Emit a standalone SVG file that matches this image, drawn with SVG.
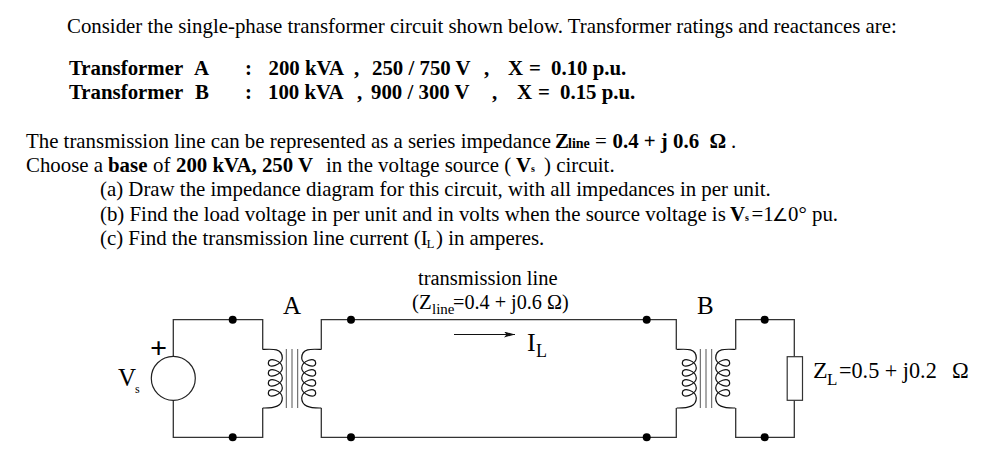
<svg xmlns="http://www.w3.org/2000/svg" xmlns:xlink="http://www.w3.org/1999/xlink" width="1007" height="476" viewBox="0 0 1007 476">
<style>
text{font-family:"Liberation Serif","Times New Roman",serif;font-size:20.850px;fill:#000;white-space:pre}
.b{font-weight:bold}
.w{fill:none;stroke:#333;stroke-width:1.3}
.c{fill:none;stroke:#111;stroke-width:1.2}
.k{fill:none;stroke:#555;stroke-width:1}
.d{fill:#000}
</style>
<defs>
<path id="coil" class="c" d="M262.700 349.500C272 349 282.300 348 282.300 358c0 6-14 12-14 5c0-7 14-2 14 5c0 6-14 12-14 5c0-7 14-2 14 5c0 6-14 12-14 5c0-7 14-2 14 5c0 6-14 12-14 5c0-7 14-2 14 5C282.300 406 275 408.300 262.700 408"/>
<g id="xf">
<use xlink:href="#coil"/>
<use xlink:href="#coil" transform="matrix(-1 0 0 1 584 0)"/>
<path class="k" d="M286.300 349V408M292 349V408M297.700 349V408"/>
</g>
<marker id="ah" markerWidth="12" markerHeight="8" refX="11" refY="3" orient="auto" markerUnits="userSpaceOnUse"><path d="M0 0L11 3L0 6L2.500 3Z" fill="#111"/></marker>
</defs>
<g id="problem-text">
<text x="67" y="33">Consider the single-phase transformer circuit shown below. Transformer ratings and reactances are:</text>
<g class="b">
<text x="69" y="75">Transformer</text><text x="194" y="75">A</text><text x="245" y="75">:</text><text x="268.500" y="75">200 kVA</text><text x="354" y="75">,</text><text x="372" y="75">250 / 750 V</text><text x="484" y="75">,</text><text x="508" y="75">X</text><text x="529" y="75">=</text><text x="551" y="75">0.10 p.u.</text>
<text x="69" y="99">Transformer</text><text x="195" y="99">B</text><text x="245" y="99">:</text><text x="268" y="99">100 kVA</text><text x="357" y="99">,</text><text x="371" y="99">900 / 300 V</text><text x="492" y="99">,</text><text x="517" y="99">X</text><text x="538" y="99">=</text><text x="560" y="99">0.15 p.u.</text>
</g>
<text x="26" y="147.500">The transmission line can be represented as a series impedance</text>
<text x="555" y="147.500" class="b">Z</text><text x="568" y="147.500" class="b" style="font-size:14px">line</text><text x="595" y="147.500">=</text><text x="612.500" y="147.500" class="b">0.4 + j 0.6  Ω</text><text x="731" y="147.500">.</text>
<text x="26" y="171.700">Choose a</text><text x="108" y="171.700" class="b">base</text><text x="153" y="171.700">of</text><text x="176" y="171.700" class="b">200 kVA, 250 V</text><text x="326" y="171.700">in the voltage source (</text>
<text x="516" y="171.700" class="b">V</text><text x="531" y="171.700" class="b" style="font-size:10px">s</text><text x="544" y="171.700">) circuit.</text>
<text x="100" y="196">(a) Draw the impedance diagram for this circuit, with all impedances in per unit.</text>
<text x="100" y="221">(b) Find the load voltage in per unit and in volts when the source voltage is</text><text x="730" y="221" class="b">V</text><text x="745" y="221" class="b" style="font-size:10px">s</text><text x="751.500" y="221">=1</text><text x="772" y="221" style="font-size:18px">∠</text><text x="788" y="221">0° pu.</text>
<text x="100" y="245">(c) Find the transmission line current (I</text><text x="426.500" y="248" style="font-size:13px">L</text><text x="436" y="245">) in amperes.</text>
</g>
<g id="connectors">
<path class="w" d="M173.300 356.500V319.700H262.700V349.500"/>
<path class="w" d="M173.300 400.500V437.300H262.700V408"/>
<path class="w" d="M321.300 349.500V319.700H676.300V349.500"/>
<path class="w" d="M321.300 408V437.300H676.300V408"/>
<path class="w" d="M735.700 349.500V319.700H794.300V356.700"/>
<path class="w" d="M735.700 408V437.300H794.300V400.300"/>
<path class="c" d="M454 334.500H515" marker-end="url(#ah)"/>
<circle class="d" cx="232.700" cy="319.700" r="4"/><circle class="d" cx="232.700" cy="437.300" r="4"/>
<circle class="d" cx="351" cy="319.700" r="4"/><circle class="d" cx="351" cy="437.300" r="4"/>
<circle class="d" cx="646.700" cy="319.700" r="4"/><circle class="d" cx="646.700" cy="437.300" r="4"/>
<circle class="d" cx="764.700" cy="319.700" r="4"/><circle class="d" cx="764.700" cy="437.300" r="4"/>
</g>
<g id="source">
<circle cx="173.300" cy="378.300" r="22" fill="#fff" stroke="#222" stroke-width="1.200"/>
<text x="150" y="358" class="b" style="font-size:30px">+</text>
<text x="118" y="386" style="font-size:25px">V</text><text x="135" y="393" style="font-size:12px">s</text>
</g>
<g id="transformer-a">
<use xlink:href="#xf"/>
<text x="283" y="314" style="font-size:25px">A</text>
</g>
<g id="transformer-b">
<use xlink:href="#xf" transform="translate(414 0)"/>
<text x="697" y="314" style="font-size:25px">B</text>
</g>
<g id="line-label">
<text x="418" y="285" style="font-size:20.500px">transmission line</text>
<text x="412" y="309">(Z</text><text x="432" y="314" style="font-size:15px">line</text><text x="453" y="309" style="font-size:20.200px">=0.4 + j0.6 Ω)</text>
<text x="527" y="351" style="font-size:26px">I</text><text x="536" y="356.700" style="font-size:18px">L</text>
</g>
<g id="load">
<rect x="787.200" y="356.700" width="15.300" height="43.600" fill="#fff" stroke="#333" stroke-width="1.200"/>
<text x="813" y="378" style="font-size:24px">Z</text><text x="827" y="385" style="font-size:17px">L</text><text x="839" y="378" style="font-size:22.200px">=0.5 + j0.2</text><text x="952" y="378" style="font-size:22.500px">Ω</text>
</g>
</svg>
